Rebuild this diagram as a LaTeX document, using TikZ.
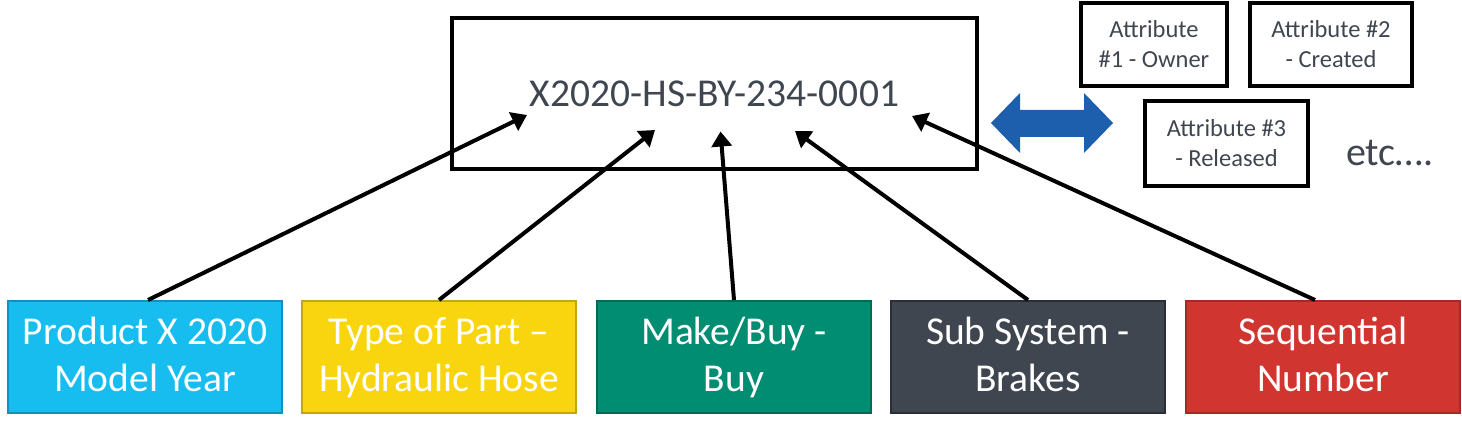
\documentclass[tikz,border=0pt]{standalone}
\usepackage{fontspec}
\setmainfont{Carlito}
\usetikzlibrary{arrows.meta}
\definecolor{txtgray}{HTML}{404650}
\definecolor{cyanf}{HTML}{16BDEE}\definecolor{cyand}{HTML}{1290BE}
\definecolor{yelf}{HTML}{F9D50F}\definecolor{yeld}{HTML}{C4A708}
\definecolor{grnf}{HTML}{008D72}\definecolor{grnd}{HTML}{006A55}
\definecolor{gryf}{HTML}{40464F}\definecolor{gryd}{HTML}{2B2F35}
\definecolor{redf}{HTML}{D13530}\definecolor{redd}{HTML}{A52A25}
\definecolor{bluearr}{HTML}{1D5FAD}
\newcommand{\lnA}{\vphantom{Tly}}
\tikzset{
  catbox/.style={draw=#1d, fill=#1f, line width=2pt, minimum width=274pt, minimum height=112pt,
    inner sep=0pt, text=white, align=center, font=\fontsize{39.5}{47}\selectfont},
  attrbox/.style={draw=black, line width=4pt, inner sep=0pt, align=center, text=txtgray,
    font=\fontsize{24.5}{30}\selectfont},
  ptr/.style={draw=black, line width=4pt, -{Triangle[length=15pt,width=20pt]}},
}
\begin{document}
\begin{tikzpicture}[x=1pt,y=-1pt]
\useasboundingbox (0,0) rectangle (1462,427);
% main box
\node[draw=black, line width=4pt, minimum width=525pt, minimum height=151pt, inner sep=0pt,
  text=txtgray, font=\fontsize{39.5}{47}\selectfont] (main) at (714.5,93.5) {X2020-HS-BY-234-0001};
% attribute boxes
\node[attrbox, minimum width=146pt, minimum height=83pt] (a1) at (1154,44.5) {Attribute\\\#1 - Owner};
\node[attrbox, minimum width=162pt, minimum height=83pt] (a2) at (1331,44.5) {Attribute \#2\\- Created};
\node[attrbox, minimum width=163pt, minimum height=85pt] (a3) at (1226.5,143.5) {Attribute \#3\\- Released};
\node[text=txtgray, font=\fontsize{40}{46}\selectfont, anchor=base west, inner sep=0pt] (etc) at (1346,166) {etc….};
% double arrow
\fill[bluearr] (991,123) -- (1020,93) -- (1020,110) -- (1084,110) -- (1084,93) -- (1113,123)
  -- (1084,153) -- (1084,137) -- (1020,137) -- (1020,153) -- cycle;
% category boxes
\node[catbox=cyan] (b1) at (145,357) {\lnA Product X 2020\\\lnA Model Year};
\node[catbox=yel] (b2) at (439,357) {\lnA Type of Part –\\\lnA Hydraulic Hose};
\node[catbox=grn] (b3) at (734,357) {\lnA Make/Buy -\\\lnA Buy};
\node[catbox=gry] (b4) at (1028,357) {\lnA Sub System -\\\lnA Brakes};
\node[catbox=red] (b5) at (1323,357) {\lnA Sequential\\\lnA Number};
% arrow targets
\coordinate (t1) at (527,115);
\coordinate (t2) at (655,130);
\coordinate (t3) at (720.5,131.5);
\coordinate (t4) at (795,131);
\coordinate (t5) at (912,116);
\draw[ptr] ([xshift=3pt]b1.north) -- (t1);
\draw[ptr] (b2.north) -- (t2);
\draw[ptr] (b3.north) -- (t3);
\draw[ptr] (b4.north) -- (t4);
\draw[ptr] ([xshift=-8pt]b5.north) -- (t5);
\end{tikzpicture}
\end{document}
